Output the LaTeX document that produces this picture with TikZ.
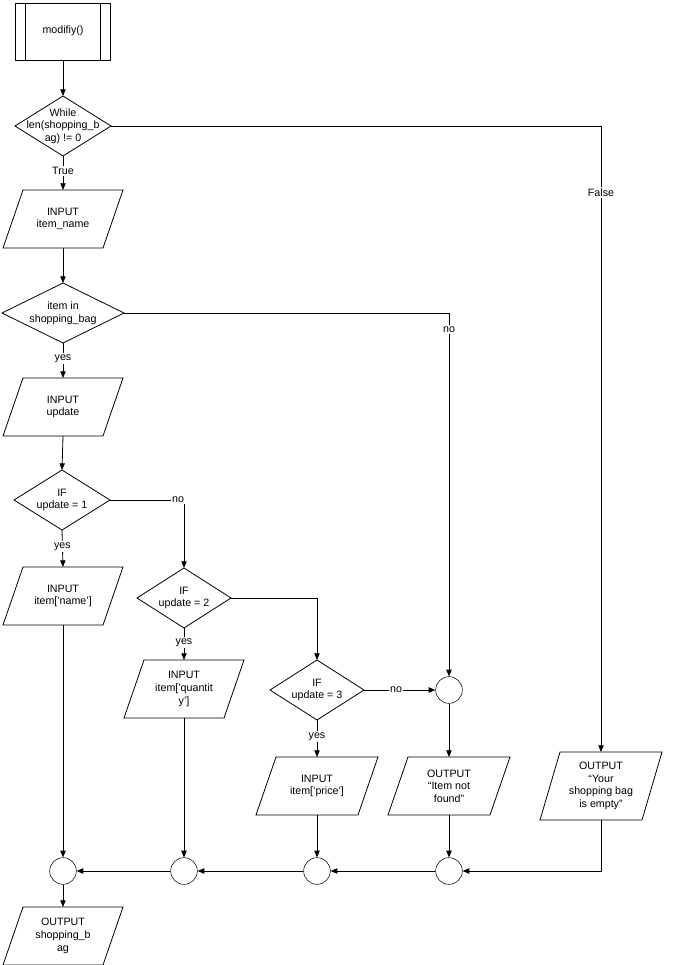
\documentclass[tikz,border=0pt]{standalone}
\usepackage{fontspec}
\setmainfont{Liberation Sans}
\usetikzlibrary{arrows.meta}
\newcommand\mydia[6]{%
 \coordinate (#1) at (#2,#3);
 \coordinate (#1-n) at (#2,{#3-#5}); \coordinate (#1-s) at (#2,{#3+#5});
 \coordinate (#1-e) at ({#2+#4},#3); \coordinate (#1-w) at ({#2-#4},#3);
 \draw[shp] (#1-w)--(#1-n)--(#1-e)--(#1-s)--cycle;
 \node[txt] at (#1) {#6};}
\newcommand\mypara[6]{%
 \coordinate (#1) at (#2,#3);
 \coordinate (#1-n) at (#2,{#3-#5}); \coordinate (#1-s) at (#2,{#3+#5});
 \draw[shp] ({#2-#4+20},{#3-#5})--({#2+#4},{#3-#5})--({#2+#4-20},{#3+#5})--({#2-#4},{#3+#5})--cycle;
 \node[txt] at (#1) {#6};}
\newcommand\mycirc[3]{%
 \node[circle,draw,minimum size=20pt,inner sep=0pt] (#1) at (#2,#3) {};}
\begin{document}
\begin{tikzpicture}[x=0.75pt,y=-0.75pt,
 shp/.style={draw,line width=0.6pt},
 txt/.style={align=center,font=\fontsize{8}{9.5}\selectfont},
 lab/.style={fill=white,inner sep=1pt,font=\fontsize{8}{9.5}\selectfont},
 ar/.style={line width=0.6pt,-{Triangle[length=5pt,width=4pt]}},
 ln/.style={line width=0.6pt}]
\useasboundingbox (0,0) rectangle (673,965);
% start box
\coordinate (st) at (63,31);
\coordinate (st-s) at (63,60);
\draw[shp] (15,3) rectangle (110,60);
\draw[shp] (25,3)--(25,60) (100,3)--(100,60);
\node[txt] at (st) {modifiy()};
\mydia{d1}{63}{126}{48}{30}{While\\len(shopping\_b\\ag) != 0}
\mypara{p1}{63}{219}{60}{29}{INPUT\\item\_name}
\mydia{d2}{63}{313}{61}{30}{item in\\shopping\_bag}
\mypara{p2}{63}{407}{60}{29}{INPUT\\update}
\mydia{d3}{62}{500}{48}{30}{IF\\update = 1}
\mypara{p3}{63}{596}{60}{29}{INPUT\\item['name']}
\mydia{d4}{184}{598}{47}{30}{IF\\update = 2}
\mypara{p4}{184}{689}{60}{29}{INPUT\\item['quantit\\y']}
\mydia{d5}{317}{690}{47}{30}{IF\\update = 3}
\mypara{p5}{317}{786}{61}{29}{INPUT\\item['price']}
\mypara{p6}{449}{786}{61}{29}{OUTPUT\\“Item not\\found”}
\mypara{p7}{601}{786}{61}{34}{OUTPUT\\“Your\\shopping bag\\is empty”}
\mypara{p8}{63}{936}{60}{29}{OUTPUT\\shopping\_b\\ag}
\mycirc{c0}{449}{690}
\mycirc{c1}{63}{871}
\mycirc{c2}{184}{871}
\mycirc{c3}{317}{871}
\mycirc{c4}{449}{871}
% connectors
\draw[ar] (st-s)--(d1-n);
\draw[ar] (d1-s)--node[lab,pos=0.45]{True}(p1-n);
\draw[ar] (d1-e)-|node[lab,pos=0.553]{False}(p7-n);
\draw[ar] (p1-s)--(d2-n);
\draw[ar] (d2-s)--node[lab,pos=0.45]{yes}(p2-n);
\draw[ar] (d2-e)-|node[lab,pos=0.523]{no}(c0);
\draw[ar] (p2-s)--(d3-n);
\draw[ar] (d3-s)--node[lab,pos=0.45]{yes}(p3-n);
\draw[ar] (d3-e)-|node[lab,pos=0.46]{no}(d4-n);
\draw[ar] (d4-s)--node[lab,pos=0.45]{yes}(p4-n);
\draw[ar] (d4-e)-|(d5-n);
\draw[ar] (d5-s)--node[lab,pos=0.45]{yes}(p5-n);
\draw[ar] (d5-e)--node[lab,pos=0.45]{no}(c0);
\draw[ar] (c0)--(p6-n);
\draw[ar] (p3-s)--(c1);
\draw[ar] (p4-s)--(c2);
\draw[ar] (p5-s)--(c3);
\draw[ar] (p6-s)--(c4);
\draw[ar] (p7-s)|-(c4);
\draw[ar] (c4)--(c3);
\draw[ar] (c3)--(c2);
\draw[ar] (c2)--(c1);
\draw[ar] (c1)--(p8-n);
\end{tikzpicture}
\end{document}
